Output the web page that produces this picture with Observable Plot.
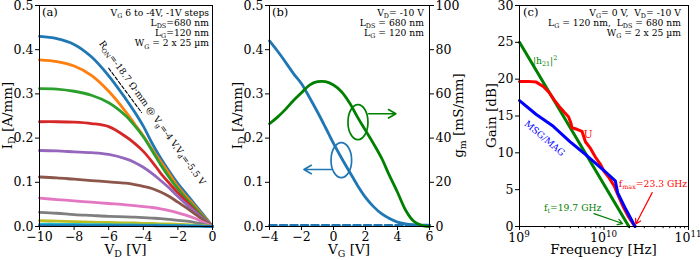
<!DOCTYPE html>
<html><head><meta charset="utf-8">
<script src="https://cdn.jsdelivr.net/npm/d3@7"></script>
<script src="https://cdn.jsdelivr.net/npm/@observablehq/plot@0.6"></script>
<style>
html,body{margin:0;padding:0;background:#fff;}
#wrap{position:relative;width:700px;height:260px;overflow:hidden;}
.panel{position:absolute;top:0;}
.panel svg{overflow:visible;display:block;}
</style></head>
<body>
<div id="wrap">
 <div class="panel" id="pa" style="left:0px"></div>
 <div class="panel" id="pb" style="left:230px"></div>
 <div class="panel" id="pc" style="left:470px"></div>
</div>
<script>
// ================= DATA =================
// ---- Panel (a): output characteristics, I_D vs V_D for V_G = -4 ... 6 V
const vdGrid  = [-10,-9,-8,-7,-6,-5,-4.5,-4,-3.5,-3,-2.5,-2,-1.5,-1,-0.5,0];
const vgSteps = [-4,-3,-2,-1,0,1,2,3,4,5,6];
const idVgM4 = [0.430,0.425,0.412,0.384,0.341,0.288,0.259,0.227,0.189,0.155,0.125,0.097,0.073,0.049,0.025,0];
const idVgM3 = [0.377,0.373,0.363,0.342,0.306,0.259,0.232,0.205,0.175,0.147,0.119,0.090,0.067,0.045,0.022,0];
const idVgM2 = [0.312,0.311,0.306,0.297,0.280,0.250,0.228,0.203,0.172,0.140,0.111,0.085,0.062,0.041,0.020,0];
const idVgM1 = [0.237,0.237,0.236,0.233,0.226,0.203,0.188,0.170,0.147,0.121,0.098,0.076,0.056,0.036,0.017,0];
const idVg0  = [0.172,0.171,0.169,0.167,0.163,0.153,0.145,0.134,0.120,0.104,0.087,0.068,0.050,0.033,0.016,0];
const idVgP1 = [0.112,0.110,0.107,0.104,0.101,0.098,0.095,0.091,0.086,0.078,0.068,0.055,0.042,0.028,0.014,0];
const idVgP2 = [0.064,0.061,0.058,0.055,0.052,0.049,0.047,0.045,0.043,0.040,0.036,0.031,0.025,0.018,0.009,0];
const idVgP3 = [0.032,0.030,0.027,0.025,0.023,0.022,0.021,0.020,0.019,0.018,0.016,0.014,0.012,0.009,0.005,0];
const idVgP4 = [0.013,0.012,0.011,0.010,0.009,0.008,0.008,0.007,0.007,0.006,0.006,0.005,0.004,0.003,0.002,0];
const idVgP5 = [0.005,0.005,0.0045,0.004,0.004,0.0035,0.0035,0.003,0.003,0.003,0.0025,0.002,0.002,0.0015,0.001,0];
const idVgP6 = [0.002,0.002,0.002,0.002,0.002,0.002,0.002,0.0018,0.0018,0.0016,0.0015,0.0013,0.001,0.0008,0.0005,0];
const ronVd = [-6.0, -4.1];          // R_ON guide line (dashed)
const ronId = [0.358, 0.258];
const ronLabelAt = [-3.45, 0.256];   // centre of rotated R_ON label
const vdTicks = [-10,-8,-6,-4,-2,0];
const idTicks = [0,0.1,0.2,0.3,0.4,0.5];
const textA = ["V_{G} 6 to -4V, -1V steps", "L_{DS}=680 nm", "L_{G}=120 nm", "W_{G} = 2 x 25 µm"];
const ronText = "R_{ON}=-18.7 Ω·mm @ V_{g}=-4 V,V_{d}=-5.5 V";

// ---- Panel (b): transfer characteristics at V_D = -10 V
const vgGrid = [-4,-3.5,-3,-2.5,-2,-1.5,-1,-0.5,0,0.5,1,1.5,2,2.5,3,3.5,4,4.5,5,5.5,6];
const idTransfer = [0.420,0.397,0.372,0.346,0.323,0.292,0.259,0.224,0.188,0.155,0.124,0.093,0.066,0.045,0.029,0.018,0.010,0.006,0.004,0.003,0.003];
const gmTransfer = [46.5,49.5,53,57,60.5,64,65.5,65.5,64,61,56,49.5,43.5,37.5,31,23,15.5,7.5,2.5,0.5,0];
const igVg   = [-4,-2,0,2,4,6];
const igLeak = [0.0025,0.0025,0.0025,0.0025,0.0025,0.0025];
const vgTicks = [-4,-2,0,2,4,6];
const gmTicks = [0,20,40,60,80,100];
const gmMax = 100, idMaxB = 0.5;
const ellipseId = [0.52, 0.149];     // (V_G, I_D) centre of I_D ellipse
const ellipseGm = [1.56, 47];        // (V_G, g_m) centre of g_m ellipse
const arrowId = {x1: -0.11, y1: 0.129, x2: -1.85, y2: 0.129};
const arrowGm = {x1: 2.19, y1: 51, x2: 3.9, y2: 51};
const textB = ["V_{D}= -10 V", "L_{DS} = 680 nm", "L_{G} = 120 nm"];

// ---- Panel (c): RF gains vs frequency
const uFreq = [1e9,1.26e9,1.58e9,1.91e9,2.24e9,2.57e9,2.95e9,3.39e9,3.80e9,4.07e9,4.17e9,4.79e9,5.50e9,6.03e9,6.92e9,7.94e9,9.12e9,1e10,1.15e10,1.32e10,1.45e10,1.70e10,1.95e10,2.33e10];
const uGain = [19.7,19.7,19.6,19.0,18.2,17.2,16.3,15.5,14.9,14.0,13.4,13.2,12.9,11.5,10.6,9.4,8.4,7.5,6.6,5.5,4.4,2.6,1.3,0];
const magFreq = [1e9,1.58e9,2.51e9,3.98e9,6.31e9,1e10,1.36e10,1.45e10,1.8e10,2.33e10];
const magGain = [17.1,15.2,13.6,11.5,9.6,7.6,6.2,4.6,2.4,0];
const h21Freq = [1e9,1.97e10];
const h21Gain = [25.0,0];
const fTicks = [1e9,1e10,1e11];
const fTickLabels = ["10^{9}","10^{10}","10^{11}"];
const fMinor = [2e9,3e9,4e9,5e9,6e9,7e9,8e9,9e9,2e10,3e10,4e10,5e10,6e10,7e10,8e10,9e10];
const gainTicks = [0,5,10,15,20,25,30];
const textC = ["V_{G}= 0 V,  V_{D}= -10 V", "L_{G} = 120 nm,  L_{DS} = 680 nm", "W_{G} = 2 x 25 µm"];
const fmaxArrow = {x1: 3.72e10, y1: 4.6, x2: 2.38e10, y2: 0.35};
const ftArrow   = {x1: 7.6e9, y1: 1.75, x2: 1.66e10, y2: 0.4};

// ================= HELPERS =================
const FONT = "'DejaVu Serif', 'Liberation Serif', serif";
function rich(svg, str, x, y, o = {}) {
  const fs = o.size || 9.2;
  const t = d3.select(svg).append("text")
    .attr("x", x).attr("y", y)
    .style("font-family", FONT).attr("font-size", fs)
    .attr("fill", o.fill || "black")
    .attr("text-anchor", o.anchor || "start")
    .style("white-space", "pre");
  if (o.baseline) t.attr("dominant-baseline", o.baseline);
  if (o.rotate != null) t.attr("transform", `rotate(${o.rotate},${x},${y})`);
  const parts = str.split(/(_\{[^}]*\}|\^\{[^}]*\})/).filter(s => s.length);
  let shift = 0;
  for (const p of parts) {
    let target = 0, txt = p, small = false;
    if (p.startsWith("_{")) { target = 0.24 * fs; txt = p.slice(2, -1); small = true; }
    else if (p.startsWith("^{")) { target = -0.4 * fs; txt = p.slice(2, -1); small = true; }
    const ts = t.append("tspan").text(txt);
    if (target - shift !== 0) ts.attr("dy", target - shift);
    if (small) ts.attr("font-size", fs * 0.7);
    shift = target;
  }
  return t;
}
const baseStyle = {fontFamily: FONT, fontSize: "12.5px", background: "white", color: "black"};
const tab10 = ["#1f77b4","#ff7f0e","#2ca02c","#d62728","#9467bd","#8c564b","#e377c2","#7f7f7f","#bcbd22","#17becf","#1f77b4"];
const LBL = 13.5;

// ================= PANEL (a) =================
const curvesA = [idVgM4,idVgM3,idVgM2,idVgM1,idVg0,idVgP1,idVgP2,idVgP3,idVgP4,idVgP5,idVgP6];
const rowsA = [];
curvesA.forEach((arr, k) => arr.forEach((v, i) => rowsA.push({vg: vgSteps[k], vd: vdGrid[i], id: v})));
const ronRows = ronVd.map((v, i) => ({vd: v, id: ronId[i]}));

const mA = {l: 39, r: 18, t: 5, b: 34, w: 230, h: 260};
const pa = Plot.plot({
  width: mA.w, height: mA.h, marginLeft: mA.l, marginRight: mA.r, marginTop: mA.t, marginBottom: mA.b,
  style: baseStyle,
  x: {domain: [-10, 0]},
  y: {domain: [0, 0.5]},
  color: {type: "ordinal", domain: vgSteps, range: tab10},
  marks: [
    Plot.line(rowsA, {x: "vd", y: "id", z: "vg", stroke: "vg", strokeWidth: 2.8, curve: "catmull-rom"}),
    Plot.line(ronRows, {x: "vd", y: "id", stroke: "black", strokeWidth: 1.1, strokeDasharray: "3.5,2"}),
    Plot.axisX({ticks: vdTicks, tickSize: 4, tickPadding: 2, label: null, tickFormat: d3.format("d")}),
    Plot.axisY({ticks: idTicks, tickSize: 4, tickPadding: 2, label: null, tickFormat: d3.format(".1f")}),
    Plot.frame({stroke: "black", strokeWidth: 1})
  ]
});
document.getElementById("pa").appendChild(pa);
{
  const x = pa.scale("x").apply, y = pa.scale("y").apply;
  rich(pa, "(a)", mA.l + 3, 16, {size: 11.5});
  textA.forEach((s, i) => rich(pa, s, mA.w - mA.r - 3, 15.5 + i * 10.3, {anchor: "end"}));
  rich(pa, ronText, x(ronLabelAt[0]), y(ronLabelAt[1]), {size: 9.0, anchor: "middle", rotate: 54.3, baseline: "central"});
  rich(pa, "I_{D} [A/mm]", 12, (mA.t + mA.h - mA.b) / 2, {size: LBL, anchor: "middle", rotate: -90});
  rich(pa, "V_{D} [V]", (mA.l + mA.w - mA.r) / 2, 253.5, {size: LBL, anchor: "middle"});
}

// ================= PANEL (b) =================
const rowsB = vgGrid.map((v, i) => ({vg: v, id: idTransfer[i], gm: gmTransfer[i]}));
const rowsIg = igVg.map((v, i) => ({vg: v, id: igLeak[i]}));
const gmToY = g => g * idMaxB / gmMax;
const mB = {l: 39, r: 41, t: 5, b: 34, w: 240, h: 260};
const pb = Plot.plot({
  width: mB.w, height: mB.h, marginLeft: mB.l, marginRight: mB.r, marginTop: mB.t, marginBottom: mB.b,
  style: baseStyle,
  x: {domain: [-4, 6]},
  y: {domain: [0, idMaxB]},
  marks: [
    Plot.line(rowsIg, {x: "vg", y: "id", stroke: "#1f77b4", strokeWidth: 2.6, strokeDasharray: "7,3.5"}),
    Plot.line(rowsB, {x: "vg", y: "id", stroke: "#1f77b4", strokeWidth: 2.8, curve: "catmull-rom"}),
    Plot.line(rowsB, {x: "vg", y: d => gmToY(d.gm), stroke: "green", strokeWidth: 2.8, curve: "catmull-rom"}),
    Plot.arrow([arrowId], {x1: "x1", y1: "y1", x2: "x2", y2: "y2", stroke: "#1f77b4", strokeWidth: 1.6, headLength: 8}),
    Plot.arrow([arrowGm], {x1: "x1", y1: d => gmToY(d.y1), x2: "x2", y2: d => gmToY(d.y2), stroke: "green", strokeWidth: 1.6, headLength: 8}),
    Plot.axisX({ticks: vgTicks, tickSize: 4, tickPadding: 2, label: null, tickFormat: d3.format("d")}),
    Plot.axisY({ticks: idTicks, tickSize: 4, tickPadding: 2, label: null, tickFormat: d3.format(".1f")}),
    Plot.axisY({anchor: "right", ticks: gmTicks.map(gmToY), tickSize: 4, tickPadding: 2, label: null,
                tickFormat: d => d3.format("d")(Math.round(d * gmMax / idMaxB))}),
    Plot.frame({stroke: "black", strokeWidth: 1})
  ]
});
document.getElementById("pb").appendChild(pb);
{
  const x = pb.scale("x").apply, y = pb.scale("y").apply;
  const g = d3.select(pb);
  g.append("ellipse").attr("cx", x(ellipseId[0])).attr("cy", y(ellipseId[1])).attr("rx", 10.3).attr("ry", 17.5)
    .attr("fill", "none").attr("stroke", "#1f77b4").attr("stroke-width", 1.7);
  g.append("ellipse").attr("cx", x(ellipseGm[0])).attr("cy", y(gmToY(ellipseGm[1]))).attr("rx", 10).attr("ry", 17.5)
    .attr("fill", "none").attr("stroke", "green").attr("stroke-width", 1.7);
  rich(pb, "(b)", mB.l + 3, 16, {size: 11.5});
  textB.forEach((s, i) => rich(pb, s, mB.w - mB.r - 5, 15.5 + i * 10.3, {anchor: "end"}));
  rich(pb, "I_{D} [A/mm]", 12, (mB.t + mB.h - mB.b) / 2, {size: LBL, anchor: "middle", rotate: -90});
  rich(pb, "g_{m} [mS/mm]", 233, (mB.t + mB.h - mB.b) / 2, {size: LBL, anchor: "middle", rotate: -90});
  rich(pb, "V_{G} [V]", (mB.l + mB.w - mB.r) / 2, 253.5, {size: LBL, anchor: "middle"});
}

// ================= PANEL (c) =================
const rowsU = uFreq.map((f, i) => ({f, g: uGain[i]}));
const rowsMag = magFreq.map((f, i) => ({f, g: magGain[i]}));
const rowsH21 = h21Freq.map((f, i) => ({f, g: h21Gain[i]}));
const mC = {l: 49, r: 12, t: 5, b: 34, w: 230, h: 260};
const pc = Plot.plot({
  width: mC.w, height: mC.h, marginLeft: mC.l, marginRight: mC.r, marginTop: mC.t, marginBottom: mC.b,
  style: baseStyle,
  x: {type: "log", domain: [1e9, 1e11]},
  y: {domain: [0, 30]},
  marks: [
    Plot.line(rowsH21, {x: "f", y: "g", stroke: "green", strokeWidth: 3}),
    Plot.line(rowsU, {x: "f", y: "g", stroke: "red", strokeWidth: 3}),
    Plot.line(rowsMag, {x: "f", y: "g", stroke: "blue", strokeWidth: 3}),
    Plot.arrow([fmaxArrow], {x1: "x1", y1: "y1", x2: "x2", y2: "y2", stroke: "red", strokeWidth: 1.2, headLength: 7}),
    Plot.arrow([ftArrow], {x1: "x1", y1: "y1", x2: "x2", y2: "y2", stroke: "green", strokeWidth: 1.2, headLength: 7}),
    Plot.axisX({ticks: fMinor, tickSize: 2.2, tickFormat: () => "", label: null}),
    Plot.axisX({ticks: fTicks, tickSize: 4, tickFormat: () => "", label: null}),
    Plot.axisY({ticks: gainTicks, tickSize: 4, tickPadding: 2, label: null}),
    Plot.frame({stroke: "black", strokeWidth: 1})
  ]
});
document.getElementById("pc").appendChild(pc);
{
  const x = pc.scale("x").apply, y = pc.scale("y").apply;
  fTicks.forEach((f, i) => rich(pc, fTickLabels[i], x(f), mC.h - mC.b + 16, {size: 12.5, anchor: "middle"}));
  rich(pc, "(c)", mC.l + 4, 16, {size: 11.5});
  textC.forEach((s, i) => rich(pc, s, mC.w - mC.r - 7, 15.5 + i * 10.3, {anchor: "end"}));
  rich(pc, "|h_{21}|^{2}", x(1.46e9), y(22.0), {fill: "green"});
  rich(pc, "MSG/MAG", x(2.05e9), y(12.0), {fill: "blue", anchor: "middle", rotate: 40, baseline: "central"});
  rich(pc, "U", x(6.6e9), y(12.0), {fill: "red", size: 10.5, anchor: "middle"});
  rich(pc, "f_{max}=23.3 GHz", x(1.52e10), y(5.3), {fill: "red"});
  rich(pc, "f_{t}=19.7 GHz", x(1.98e9), y(2.0), {fill: "green"});
  rich(pc, "Gain [dB]", 26, (mC.t + mC.h - mC.b) / 2, {size: LBL, anchor: "middle", rotate: -90});
  rich(pc, "Frequency [Hz]", (mC.l + mC.w - mC.r) / 2, 253.5, {size: LBL, anchor: "middle"});
}
</script>
</body></html>
